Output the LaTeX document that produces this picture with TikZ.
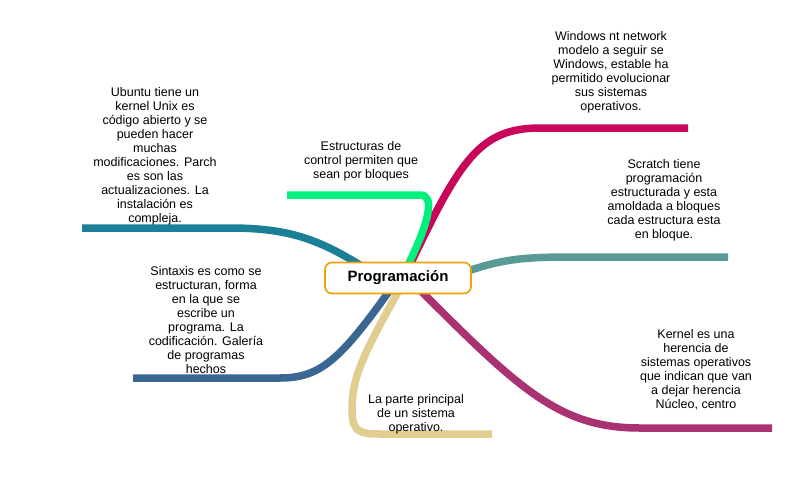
\documentclass[tikz,border=0pt]{standalone}
\usepackage{fontspec}
\setmainfont{Liberation Sans}
\begin{document}
\begin{tikzpicture}[x=1pt,y=-1pt,
 br/.style={line width=7.5pt,line cap=butt},
 txt/.style={align=center,font=\fontsize{12.5}{14}\selectfont,inner sep=0pt}]
\useasboundingbox (0,0) rectangle (798,496);
\fill[white] (0,0) rectangle (798,496);
\definecolor{c1}{HTML}{C8065A}
\definecolor{c2}{HTML}{00F07E}
\definecolor{c3}{HTML}{1C7F98}
\definecolor{c4}{HTML}{5A9A96}
\definecolor{c5}{HTML}{3A6792}
\definecolor{c6}{HTML}{E2CD90}
\definecolor{c7}{HTML}{AA3272}
\coordinate (e1) at (688,128);
\coordinate (e2) at (287,195);
\coordinate (e3) at (82,228);
\coordinate (e4) at (728,257);
\coordinate (e5) at (133,378);
\coordinate (e6) at (492,434);
\coordinate (e7) at (772,428);
\draw[br,c1] (410,265) .. controls (460,160) and (480,128) .. (540,128) -- (e1);
\draw[br,c2] (408,265) .. controls (430,220) and (435,195) .. (420,195) -- (e2);
\draw[br,c3] (365,268) .. controls (320,240) and (290,228) .. (230,228) -- (e3);
\draw[br,c4] (465,272) .. controls (500,260) and (520,257) .. (570,257) -- (e4);
\draw[br,c5] (390,290) .. controls (340,360) and (320,378) .. (280,378) -- (e5);
\draw[br,c6] (398,292) .. controls (360,360) and (352,380) .. (352,410) .. controls (352,432) and (360,434) .. (380,434) -- (e6);
\draw[br,c7] (420,290) .. controls (520,390) and (560,428) .. (640,428) -- (e7);
\node[draw={rgb,255:red,240;green,160;blue,0},line width=1.6pt,fill=white,rounded corners=7pt,minimum width=146pt,minimum height=31pt,font=\bfseries\fontsize{15}{17}\selectfont] (c) at (398,278) {Programación};
\node[txt] (t1) at (611,72) {Windows nt network\\modelo a seguir se\\Windows, estable ha\\permitido evolucionar\\sus sistemas\\operativos.};
\node[txt] (t2) at (361,161) {Estructuras de\\control permiten que\\sean por bloques};
\node[txt] (t3) at (155,156) {Ubuntu tiene un\\kernel Unix es\\código abierto y se\\pueden hacer\\muchas\\modificaciones. Parch\\es son las\\actualizaciones. La\\instalación es\\compleja.};
\node[txt] (t4) at (664,200) {Scratch tiene\\programación\\estructurada y esta\\amoldada a bloques\\cada estructura esta\\en bloque.};
\node[txt] (t5) at (206,320) {Sintaxis es como se\\estructuran, forma\\en la que se\\escribe un\\programa. La\\codificación. Galería\\de programas\\hechos};
\node[txt] (t6) at (416,414) {La parte principal\\de un sistema\\operativo.};
\node[txt] (t7) at (696,370) {Kernel es una\\herencia de\\sistemas operativos\\que indican que van\\a dejar herencia\\Núcleo, centro};
\end{tikzpicture}
\end{document}
